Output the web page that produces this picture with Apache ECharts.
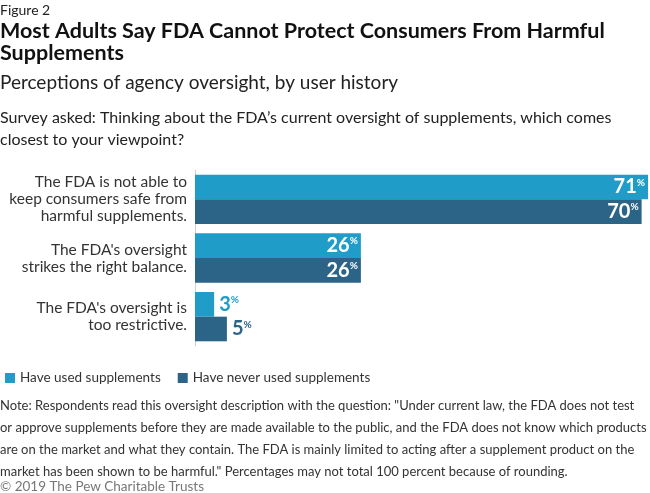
<!DOCTYPE html>
<html><head><meta charset="utf-8">
<script src="https://cdn.jsdelivr.net/npm/echarts@6/dist/echarts.min.js"></script>
<style>html,body{margin:0;padding:0;background:#fff}#c{width:650px;height:493px}</style>
</head><body><div id="c"></div>
<script>
const categories = ["The FDA is not able to\nkeep consumers safe from\nharmful supplements.", "The FDA's oversight\nstrikes the right balance.", "The FDA's oversight is\ntoo restrictive."];
const usedValues = [71, 26, 3];
const neverValues = [70, 26, 5];
const seriesNames = ["Have used supplements", "Have never used supplements"];
const colors = ["#209cc8", "#2c6488"];

const F = 'Lato, "Noto Sans", sans-serif';
function mkData(vals, color) {
  return vals.map(v => {
    const inside = v >= 15;
    return {
      value: v,
      label: {
        show: true,
        position: inside ? 'insideRight' : 'right',
        distance: inside ? 3 : 5,
        formatter: '{v|{c}}{p|%}',
        rich: {
          v: {fontFamily: F, fontSize: 20, fontWeight: 'bold', color: inside ? '#fff' : color},
          p: {fontFamily: F, fontSize: 10, fontWeight: 'bold', color: inside ? '#fff' : color, padding: [0,0,9,0]}
        }
      }
    };
  });
}
const chart = echarts.init(document.getElementById('c'));
chart.setOption({
  animation: false,
  grid: {left: 195, right: 2, top: 170, height: 176},
  xAxis: {type: 'value', min: 0, max: 71, show: false},
  yAxis: {type: 'category', data: categories, inverse: true,
    axisLine: {lineStyle: {color: '#cfcfcf', width: 1}}, axisTick: {show: false},
    axisLabel: {fontFamily: F, fontSize: 15.5, color: '#333', lineHeight: 17, margin: 8, align: 'right'}},
  legend: {left: 0, top: 366, itemWidth: 10, itemHeight: 10, itemGap: 17, icon: 'rect',
    textStyle: {fontFamily: F, fontSize: 13.5, color: '#333'}},
  series: [
    {name: seriesNames[0], type: 'bar', data: mkData(usedValues, colors[0]), itemStyle: {color: colors[0]}, barGap: '0%', barCategoryGap: '16%'},
    {name: seriesNames[1], type: 'bar', data: mkData(neverValues, colors[1]), itemStyle: {color: colors[1]}, barGap: '0%', barCategoryGap: '16%'}
  ],
  graphic: [
    {type: 'text', left: 0, top: 3, style: {text: 'Figure 2', font: '14px ' + F, fill: '#222'}},
    {type: 'text', left: 0, top: 20, style: {text: 'Most Adults Say FDA Cannot Protect Consumers From Harmful\nSupplements', font: 'bold 21.5px ' + F, lineHeight: 22, fill: '#111'}},
    {type: 'text', left: 0, top: 73, style: {text: 'Perceptions of agency oversight, by user history', font: '19px ' + F, fill: '#222'}},
    {type: 'text', left: 0, top: 107, style: {text: 'Survey asked: Thinking about the FDA\u2019s current oversight of supplements, which comes\nclosest to your viewpoint?', font: '16px ' + F, lineHeight: 22, fill: '#222'}},
    {type: 'text', left: 0, top: 395, style: {text: 'Note: Respondents read this oversight description with the question: "Under current law, the FDA does not test\nor approve supplements before they are made available to the public, and the FDA does not know which products\nare on the market and what they contain. The FDA is mainly limited to acting after a supplement product on the\nmarket has been shown to be harmful." Percentages may not total 100 percent because of rounding.', font: '13px ' + F, lineHeight: 22, fill: '#333'}},
    {type: 'text', left: 0, top: 480, style: {text: '\u00a9 2019 The Pew Charitable Trusts', font: '13.5px ' + F, fill: '#777'}}
  ]
});
</script></body></html>
